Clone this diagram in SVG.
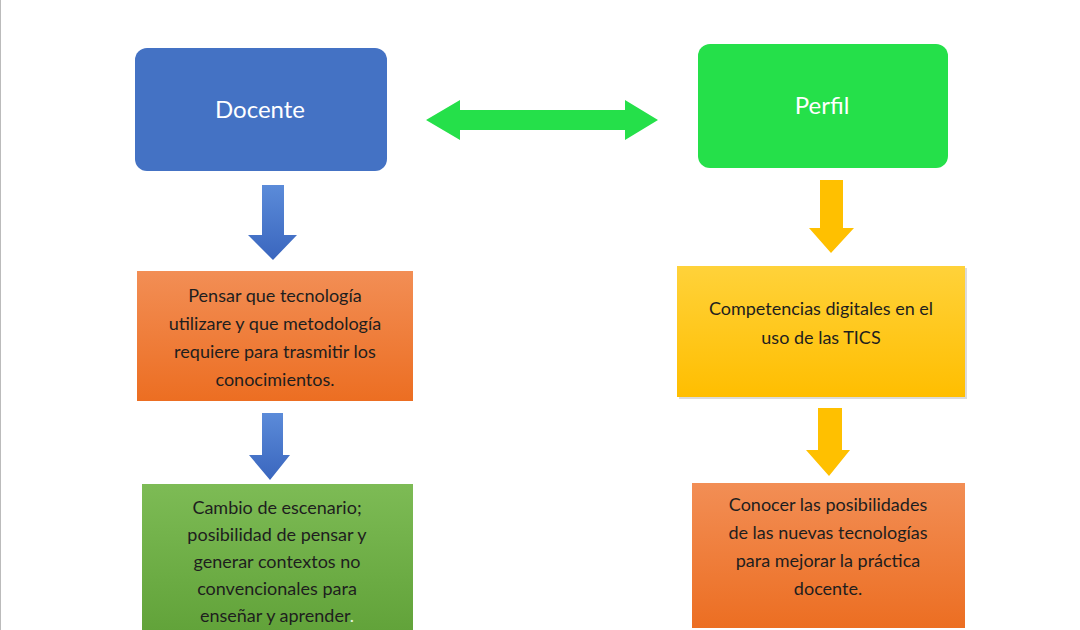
<svg xmlns="http://www.w3.org/2000/svg" width="1080" height="630" viewBox="0 0 1080 630">
<defs>
<linearGradient id="og" x1="0" y1="0" x2="0" y2="1"><stop offset="0" stop-color="#F28E55"/><stop offset="1" stop-color="#EC6E22"/></linearGradient>
<linearGradient id="yg" x1="0" y1="0" x2="0" y2="1"><stop offset="0" stop-color="#FFD23A"/><stop offset="1" stop-color="#FFBE00"/></linearGradient>
<linearGradient id="gg" x1="0" y1="0" x2="0" y2="1"><stop offset="0" stop-color="#7DBB55"/><stop offset="1" stop-color="#62A33A"/></linearGradient>
<linearGradient id="bg" x1="0" y1="0" x2="0" y2="1"><stop offset="0" stop-color="#5B8BD9"/><stop offset="1" stop-color="#3A66BE"/></linearGradient>
</defs>
<style>
text{font-family:Lato,"Open Sans","Liberation Sans",sans-serif;font-size:18px;fill:#1e1e1e;text-anchor:middle}
.w{fill:#fff;font-size:24px}
</style>
<rect width="1080" height="630" fill="#fff"/>
<line x1="0.5" y1="0" x2="0.5" y2="630" stroke="#bbb"/>
<g id="docente"><rect x="135" y="48" width="252" height="123" rx="12" fill="#4472C4"/><text class="w" x="260" y="118">Docente</text></g>
<g id="perfil"><rect x="698" y="44" width="250" height="124" rx="12" fill="#25E04A"/><text class="w" x="822" y="114">Perfil</text></g>
<g id="pensar"><rect x="137" y="271" width="276" height="130" fill="url(#og)"/>
<text x="275" y="302">Pensar que tecnología</text><text x="275" y="330">utilizare y que metodología</text><text x="275" y="358">requiere para trasmitir los</text><text x="275" y="386">conocimientos.</text></g>
<g id="cambio"><rect x="142" y="484" width="271" height="146" fill="url(#gg)"/>
<text x="277" y="514">Cambio de escenario;</text><text x="277" y="541">posibilidad de pensar y</text><text x="277" y="568">generar contextos no</text><text x="277" y="595">convencionales para</text><text x="277" y="622">enseñar y aprender<tspan fill="#e8f5e0">.</tspan></text></g>
<g id="competencias"><rect x="679" y="268" width="288" height="131" fill="#999" opacity="0.35"/><rect x="677" y="266" width="288" height="131" fill="url(#yg)"/>
<text x="821" y="315">Competencias digitales en el</text><text x="821" y="344">uso de las TICS</text></g>
<g id="conocer"><rect x="692" y="483" width="273" height="145" fill="url(#og)"/>
<text x="828" y="511">Conocer las posibilidades</text><text x="828" y="539">de las nuevas tecnologías</text><text x="828" y="567">para mejorar la práctica</text><text x="828" y="595">docente.</text></g>
<g id="connectors">
<polygon points="426,120 460,100 460,110 625,110 625,100 658,120 625,140 625,130 460,130 460,140" fill="#25E04A"/>
<polygon points="262,185 284,185 284,235 297,235 273,260 248,235 262,235" fill="url(#bg)"/>
<polygon points="262,413 283,413 283,455 290,455 270,480 249,455 262,455" fill="url(#bg)"/>
<polygon points="820,180 843,180 843,228 854,228 831,253 809,228 820,228" fill="#FFC000"/>
<polygon points="818,408 842,408 842,450 850,450 829,476 806,450 818,450" fill="#FFC000"/>
</g>
</svg>
